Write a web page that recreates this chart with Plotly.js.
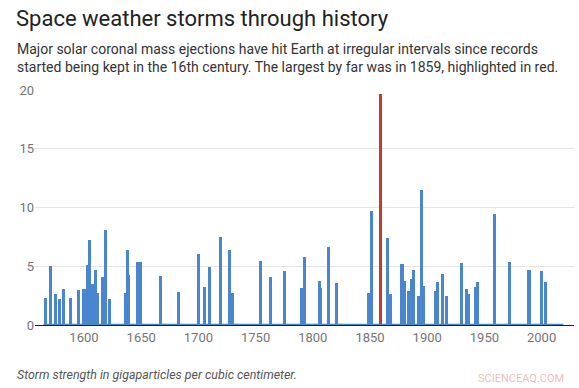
<!DOCTYPE html>
<html>
<head>
<meta charset="utf-8">
<script src="https://cdn.plot.ly/plotly-3.0.1.min.js"></script>
<style>
html,body{margin:0;padding:0;background:#fff;}
#chart{width:579px;height:388px;}
</style>
</head>
<body>
<div id="chart"></div>
<script>
// Storm years and strengths (gigaparticles per cubic centimeter)
var years = [1566,1571,1575,1579,1582,1588,1595,1600,1603,1605,1607,1608,1610,1612,1616,1619,1622,
  1636,1638,1639,1647,1649,1667,1683,1700,1705,1710,1719,1727,1730,1754,1763,1775,1790,1793,
  1806,1807,1814,1821,1849,1851,1859,1865,1868,1878,1880,1884,1886,1888,1892,1895,1897,
  1907,1909,1913,1917,1930,1934,1936,1942,1944,1959,1972,1989,2000,2003];
var strength = [2.3,5.0,2.6,2.25,3.1,2.3,3.0,3.1,5.1,7.25,3.5,3.45,4.68,2.75,4.06,8.1,2.2,
  2.7,6.4,4.26,5.34,5.34,4.17,2.84,6.04,3.2,4.97,7.5,6.38,2.7,5.48,4.06,4.6,3.12,5.76,
  3.72,3.12,6.67,3.55,2.7,9.7,19.66,7.38,2.64,5.16,3.74,2.9,3.94,4.68,2.5,11.52,3.32,
  2.92,3.68,4.3,2.47,5.25,3.04,2.61,3.2,3.69,9.42,5.34,4.68,4.62,3.63];
var highlightYear = 1859;
var baselineYears = [1564.6, 2019];
var baselineValues = [0, 0];
var xTicks = [1600,1650,1700,1750,1800,1850,1900,1950,2000];
var yTicks = [0,5,10,15,20];

var BLUE = '#4a86cf';
var RED = '#c43a31';
var colors = years.map(function(y){ return y === highlightYear ? RED : BLUE; });

var traces = [
  {
    type: 'scatter', mode: 'lines',
    x: baselineYears, y: baselineValues,
    line: {color: BLUE, width: 2.5},
    hoverinfo: 'skip', showlegend: false
  },
  {
    type: 'bar',
    x: years, y: strength,
    width: 2.7,
    marker: {color: colors, line: {width: 0}},
    showlegend: false
  }
];

var layout = {
  width: 579, height: 388,
  margin: {l: 35, r: 5, t: 90, b: 63},
  paper_bgcolor: '#ffffff', plot_bgcolor: '#ffffff',
  font: {family: 'Roboto, "Open Sans", sans-serif', color: '#757575', size: 13},
  showlegend: false,
  xaxis: {
    range: [1557.2, 2028.3],
    tickmode: 'array', tickvals: xTicks,
    ticktext: xTicks.map(String),
    showgrid: false, zeroline: false,
    showline: true, linecolor: '#222222', linewidth: 1,
    ticks: '', ticklen: 0,
    tickfont: {size: 13, color: '#757575'},
    fixedrange: true
  },
  yaxis: {
    range: [0, 20],
    tickmode: 'array', tickvals: yTicks,
    ticktext: yTicks.map(String),
    showgrid: true, gridcolor: '#e4e4e4', gridwidth: 1,
    zeroline: false, showline: false,
    ticks: '', ticklen: 0,
    tickfont: {size: 13, color: '#757575'},
    fixedrange: true
  },
  bargap: 0,
  annotations: [
    {text: 'Space weather storms through history', xref: 'paper', yref: 'paper',
     x: 0, y: 1.0, xanchor: 'left', yanchor: 'middle',
     font: {family: 'Roboto, sans-serif', size: 22, color: '#222222'}, showarrow: false},
    {text: 'Major solar coronal mass ejections have hit Earth at irregular intervals since records<br>started being kept in the 16th century. The largest by far was in 1859, highlighted in red.',
     xref: 'paper', yref: 'paper', x: 0, y: 1, xanchor: 'left', yanchor: 'middle', align: 'left',
     font: {family: 'Roboto, sans-serif', size: 14, color: '#333333'}, showarrow: false},
    {text: '<i>Storm strength in gigaparticles per cubic centimeter.</i>',
     xref: 'paper', yref: 'paper', x: 0, y: 0, xanchor: 'left', yanchor: 'middle',
     font: {family: 'Roboto, sans-serif', size: 12.4, color: '#555555'}, showarrow: false},
    {text: 'SCIENCEAQ.COM',
     xref: 'paper', yref: 'paper', x: 1, y: 0, xanchor: 'right', yanchor: 'middle',
     font: {family: 'Roboto, sans-serif', size: 11, color: '#f2bcbc'}, showarrow: false}
  ]
};

// Position the text annotations in pixels relative to the plot area
var plotW = 579 - 35 - 5, plotH = 388 - 90 - 63;
function px(xp){ return (xp - 35) / plotW; }
function py(yp){ return (388 - 63 - yp) / plotH; }
layout.annotations[0].x = px(14); layout.annotations[0].y = py(18);
layout.annotations[1].x = px(15); layout.annotations[1].y = py(58);
layout.annotations[2].x = px(15); layout.annotations[2].y = py(374);
layout.annotations[3].x = px(566); layout.annotations[3].y = py(378);

Plotly.newPlot('chart', traces, layout, {displayModeBar: false, staticPlot: true});
</script>
</body>
</html>
